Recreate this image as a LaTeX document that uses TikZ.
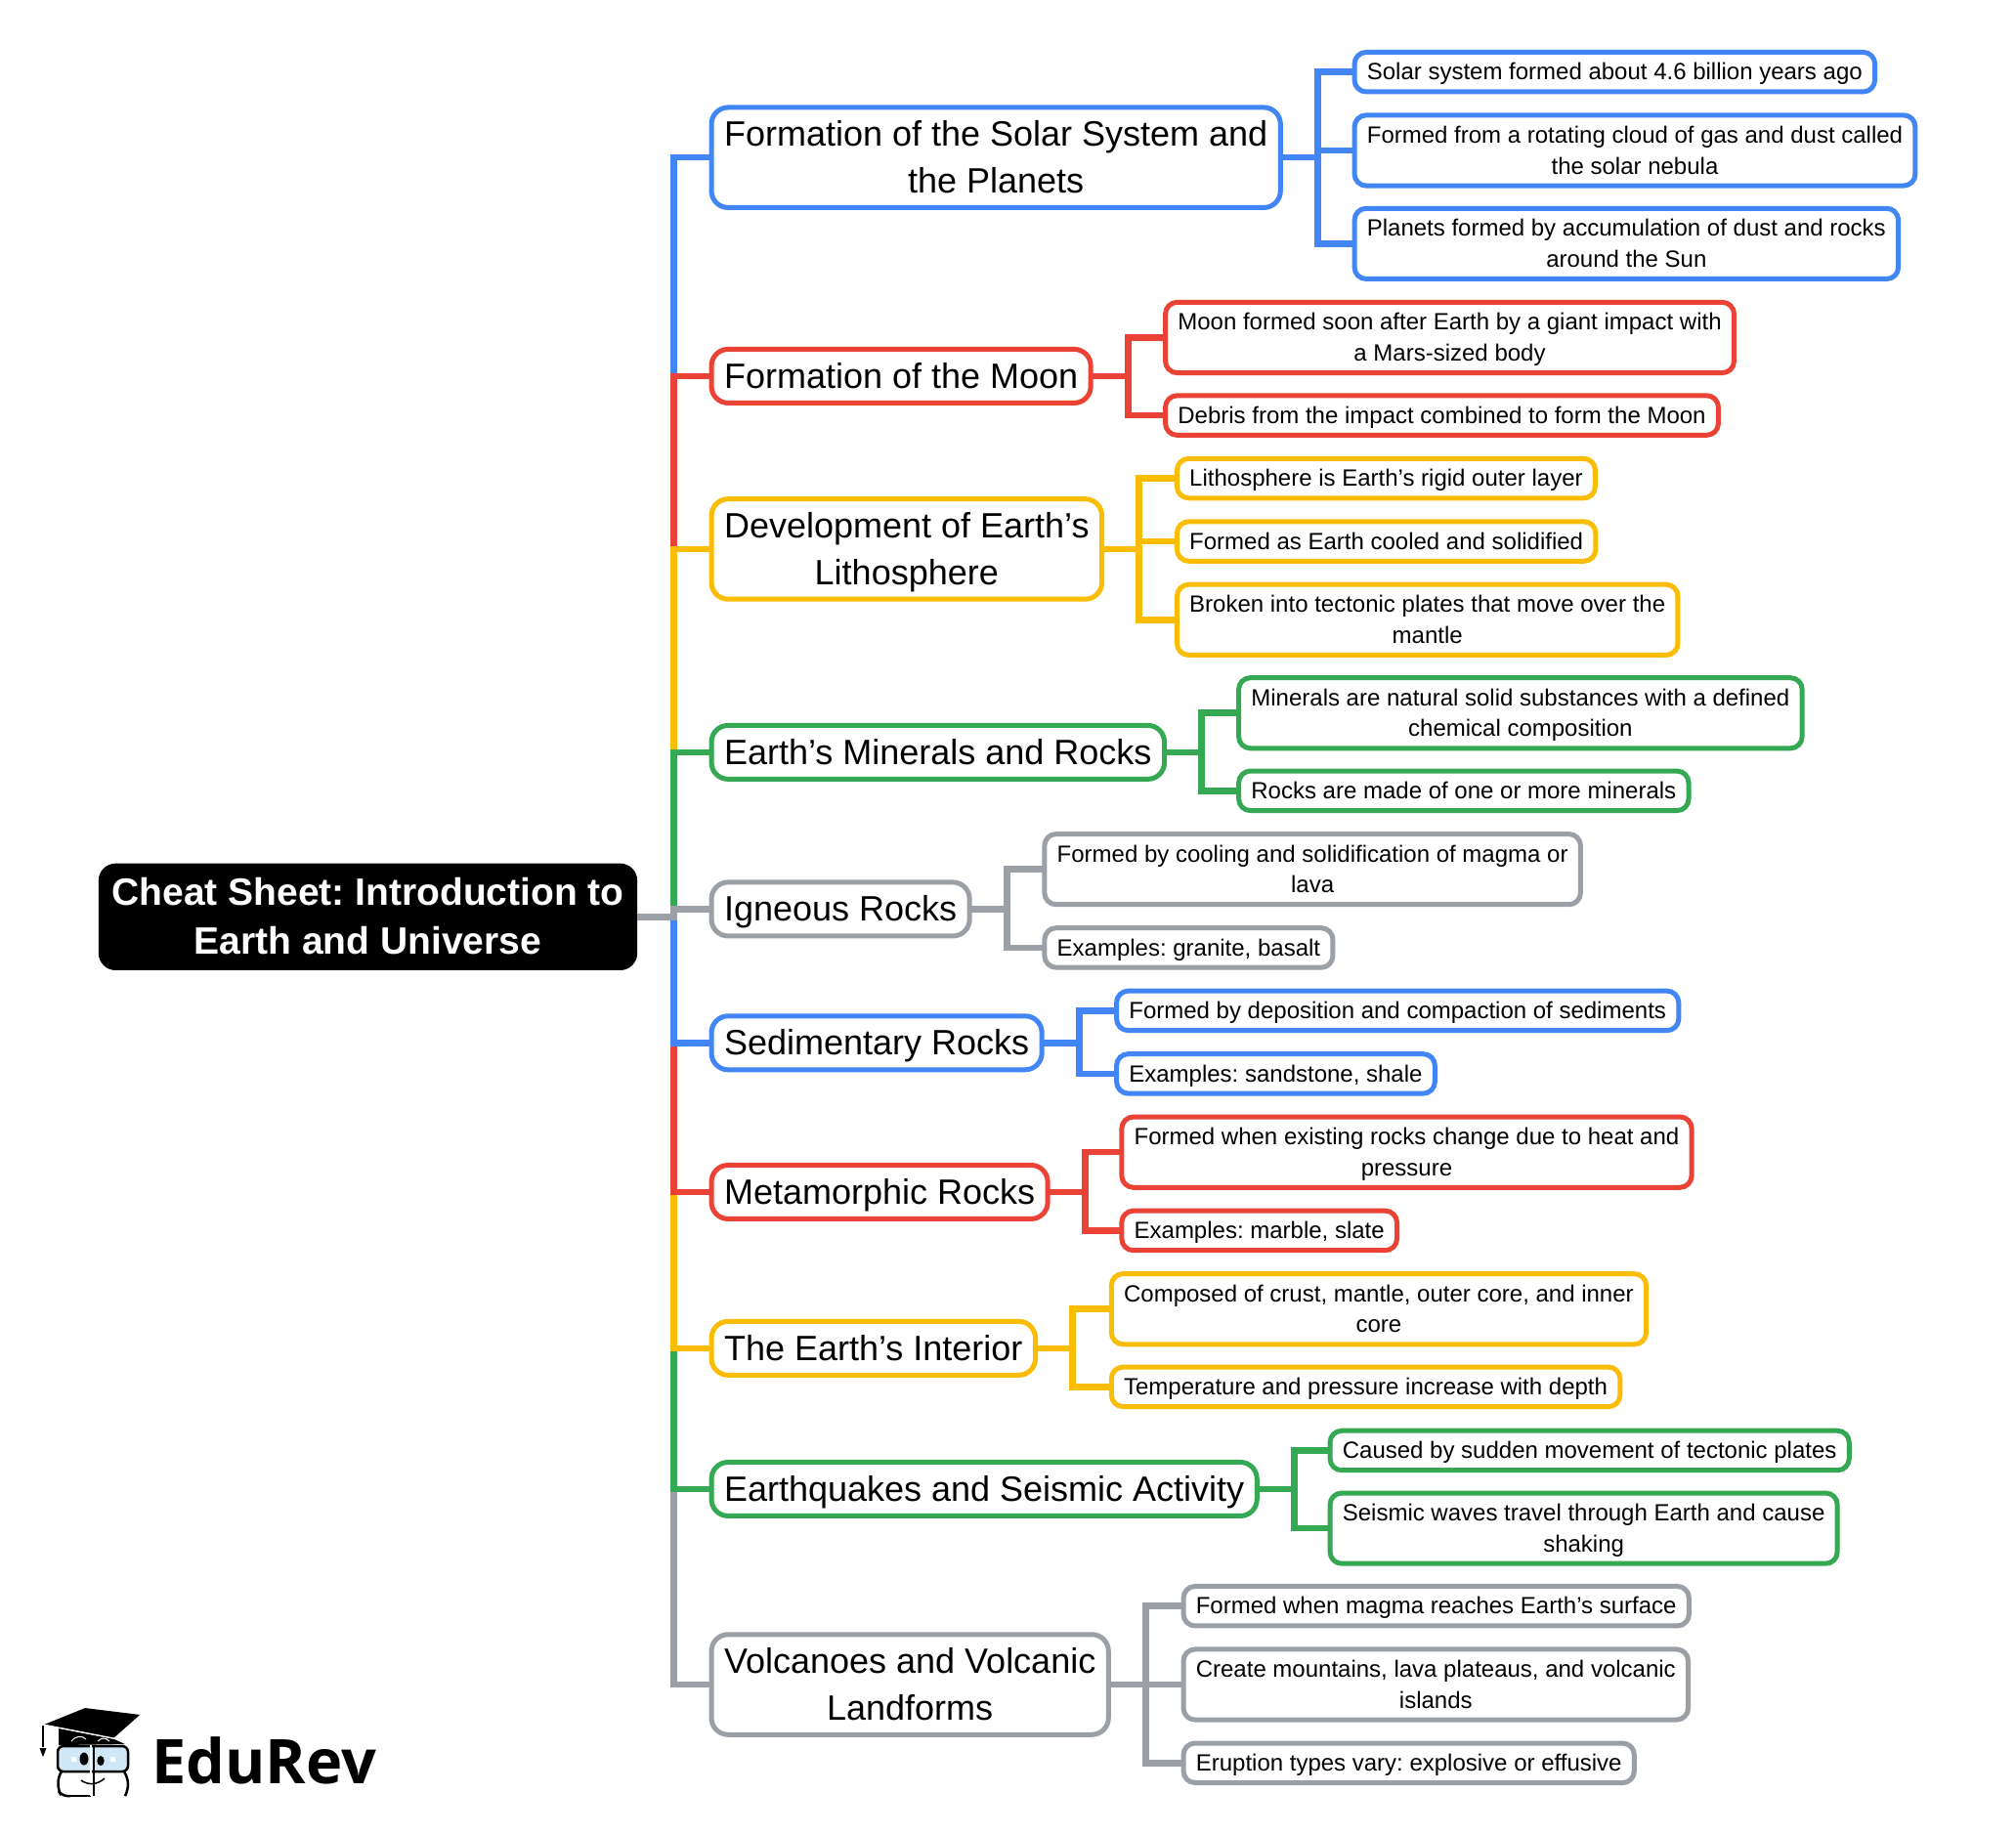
\documentclass[tikz,border=0pt]{standalone}
\usepackage{fontspec}
\setmainfont{Liberation Sans}
\newfontfamily\logofont{Open Sans}
\usepackage{tikz}
\definecolor{gblue}{HTML}{4285F4}
\definecolor{gred}{HTML}{EA4335}
\definecolor{gyellow}{HTML}{FBBC04}
\definecolor{ggreen}{HTML}{34A853}
\definecolor{ggrey}{HTML}{9AA0A6}
\definecolor{glass}{HTML}{CFE6F7}
\newcommand{\linestrut}{\rule[-.24\baselineskip]{0pt}{\baselineskip}}
\tikzset{
    rootnode/.style={anchor=west,outer sep=0pt,fill=black,draw=black,text=white,rounded corners=17pt,align=center,
        inner xsep=13pt,inner ysep=4.15pt,line width=1pt,font=\fontsize{39}{50}\selectfont\bfseries},
    subnode/.style={anchor=west,outer sep=0pt,fill=white,rounded corners=17pt,align=center,
        inner xsep=13pt,inner ysep=3.75pt,line width=5pt,font=\fontsize{36}{47.5}\selectfont},
    leafnode/.style={anchor=west,outer sep=0pt,fill=white,rounded corners=12pt,align=center,
        inner xsep=12.8pt,inner ysep=4.4pt,line width=5pt,font=\fontsize{24}{31.7}\selectfont},
    link/.style={line width=6.5pt}
}
\begin{document}
\frenchspacing
\begin{tikzpicture}[x=1.316pt,y=-1.316pt]
    \useasboundingbox (0,0) rectangle (1567.6,1427);
    \coordinate (trunk) at (524,0);
    \node[rootnode] (root) at (77,713) {\linestrut Cheat Sheet: Introduction to\\Earth and Universe\linestrut};

    \node[subnode,draw=gblue] (solar) at (553.2,122.5) {\linestrut Formation of the Solar System and\\the Planets\linestrut};
    \node[subnode,draw=gred] (moon) at (553.2,292.5) {\linestrut Formation of the Moon};
    \node[subnode,draw=gyellow] (litho) at (553.2,427) {\linestrut Development of Earth’s\\Lithosphere\linestrut};
    \node[subnode,draw=ggreen] (minerals) at (553.2,585) {\linestrut Earth’s Minerals and Rocks};
    \node[subnode,draw=ggrey] (igneous) at (553.2,707) {\linestrut Igneous Rocks};
    \node[subnode,draw=gblue] (sediment) at (553.2,811) {\linestrut Sedimentary Rocks};
    \node[subnode,draw=gred] (meta) at (553.2,927) {\linestrut Metamorphic Rocks};
    \node[subnode,draw=gyellow] (interior) at (553.2,1048.5) {\linestrut The Earth’s Interior};
    \node[subnode,draw=ggreen] (quake) at (553.2,1158) {\linestrut Earthquakes and Seismic Activity};
    \node[subnode,draw=ggrey] (volcano) at (553.2,1310) {\linestrut Volcanoes and Volcanic\\Landforms\linestrut};

    \node[leafnode,draw=gblue] (solarA) at (1053.2,56) {\linestrut Solar system formed about 4.6 billion years ago};
    \node[leafnode,draw=gblue] (solarB) at (1053.2,117) {\linestrut Formed from a rotating cloud of gas and dust called\\the solar nebula\linestrut};
    \node[leafnode,draw=gblue] (solarC) at (1053.2,189.5) {\linestrut Planets formed by accumulation of dust and rocks\\around the Sun\linestrut};
    \node[leafnode,draw=gred] (moonA) at (906.2,262.5) {\linestrut Moon formed soon after Earth by a giant impact with\\a Mars-sized body\linestrut};
    \node[leafnode,draw=gred] (moonB) at (906.2,323) {\linestrut Debris from the impact combined to form the Moon};
    \node[leafnode,draw=gyellow] (lithoA) at (915.2,372) {\linestrut Lithosphere is Earth’s rigid outer layer};
    \node[leafnode,draw=gyellow] (lithoB) at (915.2,421) {\linestrut Formed as Earth cooled and solidified};
    \node[leafnode,draw=gyellow] (lithoC) at (915.2,482) {\linestrut Broken into tectonic plates that move over the\\mantle\linestrut};
    \node[leafnode,draw=ggreen] (mineralsA) at (963.2,554.5) {\linestrut Minerals are natural solid substances with a defined\\chemical composition\linestrut};
    \node[leafnode,draw=ggreen] (mineralsB) at (963.2,615) {\linestrut Rocks are made of one or more minerals};
    \node[leafnode,draw=ggrey] (igneousA) at (812.2,676) {\linestrut Formed by cooling and solidification of magma or\\lava\linestrut};
    \node[leafnode,draw=ggrey] (igneousB) at (812.2,737) {\linestrut Examples: granite, basalt};
    \node[leafnode,draw=gblue] (sedimentA) at (868.2,786) {\linestrut Formed by deposition and compaction of sediments};
    \node[leafnode,draw=gblue] (sedimentB) at (868.2,835) {\linestrut Examples: sandstone, shale};
    \node[leafnode,draw=gred] (metaA) at (872.2,896) {\linestrut Formed when existing rocks change due to heat and\\pressure\linestrut};
    \node[leafnode,draw=gred] (metaB) at (872.2,957) {\linestrut Examples: marble, slate};
    \node[leafnode,draw=gyellow] (interiorA) at (864.2,1018) {\linestrut Composed of crust, mantle, outer core, and inner\\core\linestrut};
    \node[leafnode,draw=gyellow] (interiorB) at (864.2,1078.5) {\linestrut Temperature and pressure increase with depth};
    \node[leafnode,draw=ggreen] (quakeA) at (1034.2,1128) {\linestrut Caused by sudden movement of tectonic plates};
    \node[leafnode,draw=ggreen] (quakeB) at (1034.2,1188.5) {\linestrut Seismic waves travel through Earth and cause\\shaking\linestrut};
    \node[leafnode,draw=ggrey] (volcanoA) at (920.2,1249) {\linestrut Formed when magma reaches Earth’s surface};
    \node[leafnode,draw=ggrey] (volcanoB) at (920.2,1310) {\linestrut Create mountains, lava plateaus, and volcanic\\islands\linestrut};
    \node[leafnode,draw=ggrey] (volcanoC) at (920.2,1371) {\linestrut Eruption types vary: explosive or effusive};

    \draw[link,ggrey] (root.east) -- (root.east -| trunk) |- (volcano.west);
    \draw[link,ggreen] (root.east) -- (root.east -| trunk) |- (quake.west);
    \draw[link,gyellow] (root.east) -- (root.east -| trunk) |- (interior.west);
    \draw[link,gred] (root.east) -- (root.east -| trunk) |- (meta.west);
    \draw[link,gblue] (root.east) -- (root.east -| trunk) |- (sediment.west);
    \draw[link,gblue] (root.east) -- (root.east -| trunk) |- (solar.west);
    \draw[link,gred] (root.east) -- (root.east -| trunk) |- (moon.west);
    \draw[link,gyellow] (root.east) -- (root.east -| trunk) |- (litho.west);
    \draw[link,ggreen] (root.east) -- (root.east -| trunk) |- (minerals.west);
    \draw[link,ggrey] (root.east) -- (root.east -| trunk) |- (igneous.west);

    \draw[link,gblue] (solar.east) -- ++(29,0) |- (solarA.west);
    \draw[link,gblue] (solar.east) -- ++(29,0) |- (solarB.west);
    \draw[link,gblue] (solar.east) -- ++(29,0) |- (solarC.west);
    \draw[link,gred] (moon.east) -- ++(29,0) |- (moonA.west);
    \draw[link,gred] (moon.east) -- ++(29,0) |- (moonB.west);
    \draw[link,gyellow] (litho.east) -- ++(29,0) |- (lithoA.west);
    \draw[link,gyellow] (litho.east) -- ++(29,0) |- (lithoB.west);
    \draw[link,gyellow] (litho.east) -- ++(29,0) |- (lithoC.west);
    \draw[link,ggreen] (minerals.east) -- ++(29,0) |- (mineralsA.west);
    \draw[link,ggreen] (minerals.east) -- ++(29,0) |- (mineralsB.west);
    \draw[link,ggrey] (igneous.east) -- ++(29,0) |- (igneousA.west);
    \draw[link,ggrey] (igneous.east) -- ++(29,0) |- (igneousB.west);
    \draw[link,gblue] (sediment.east) -- ++(29,0) |- (sedimentA.west);
    \draw[link,gblue] (sediment.east) -- ++(29,0) |- (sedimentB.west);
    \draw[link,gred] (meta.east) -- ++(29,0) |- (metaA.west);
    \draw[link,gred] (meta.east) -- ++(29,0) |- (metaB.west);
    \draw[link,gyellow] (interior.east) -- ++(29,0) |- (interiorA.west);
    \draw[link,gyellow] (interior.east) -- ++(29,0) |- (interiorB.west);
    \draw[link,ggreen] (quake.east) -- ++(29,0) |- (quakeA.west);
    \draw[link,ggreen] (quake.east) -- ++(29,0) |- (quakeB.west);
    \draw[link,ggrey] (volcano.east) -- ++(29,0) |- (volcanoA.west);
    \draw[link,ggrey] (volcano.east) -- ++(29,0) |- (volcanoB.west);
    \draw[link,ggrey] (volcano.east) -- ++(29,0) |- (volcanoC.west);

    \begin{scope}[x=1pt,y=-1pt]
        \node[anchor=base west,inner sep=0pt,font=\fontsize{63}{63}\logofont\bfseries] (brand) at (155,1825) {EduRev};
        \fill (60,1769) -- (117,1780) -- (128,1785) -- (60,1786) -- cycle;
        \fill (45,1765) -- (87,1748) -- (144,1755) -- (117,1779) -- cycle;
        \draw[white,line width=1pt] (45,1765) -- (117,1779) -- (144,1755);
        \draw[line width=1.2pt] (44,1766) -- (44,1788);
        \fill (40.5,1789) -- (47.5,1789) -- (44,1798) -- cycle;
        \draw[white,line width=1pt] (73,1782) .. controls (78,1776) and (84,1776) .. (88,1780);
        \draw[white,line width=1pt] (100,1782) .. controls (104,1778) and (108,1778) .. (112,1782);
        \draw[fill=glass,line width=2.5pt,rounded corners=6pt] (59,1787) rectangle (131,1813);
        \draw[line width=2.5pt,rounded corners=6pt] (72,1838) -- (63,1838) -- (59.5,1832) -- (59.5,1818) -- (63,1813);
        \draw[line width=2.5pt,rounded corners=6pt] (127,1813) -- (131,1820) -- (131,1832) -- (128,1838);
        \draw[line width=2.5pt] (72,1838) -- (93,1838);
        \draw[white,line width=1.5pt] (93,1786) -- (93,1838);
        \draw[line width=2.5pt] (96,1786) -- (96,1838);
        \fill (86,1800) ellipse [x radius=4.5,y radius=6.5];
        \fill (103,1802) ellipse [x radius=3.7,y radius=5];
        \fill[white] (72.5,1797.5) rectangle (78,1802.5);
        \fill[white] (112.5,1797.5) rectangle (118,1802.5);
        \draw[line width=1.5pt] (83,1822) .. controls (90,1827) and (99,1827) .. (107,1820);
    \end{scope}
\end{tikzpicture}
\end{document}
